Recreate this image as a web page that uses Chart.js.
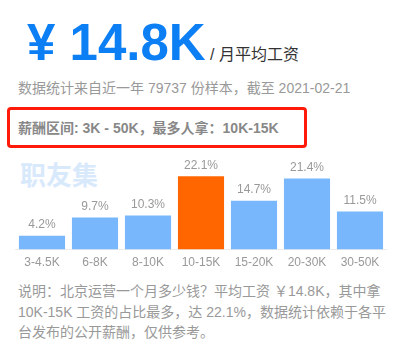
<!DOCTYPE html>
<html>
<head>
<meta charset="utf-8">
<script src="https://cdn.jsdelivr.net/npm/chart.js@4/dist/chart.umd.min.js"></script>
<style>
  html, body { margin: 0; padding: 0; background: #fff; width: 417px; height: 359px; overflow: hidden; }
  body { font-family: "Liberation Sans", "Noto Sans CJK SC", sans-serif; position: relative; }
  .abs { position: absolute; white-space: nowrap; }
  #head { left: 27px; top: 18px; line-height: 50px; }
  #big { font-size: 51px; font-weight: bold; color: #0d7ff5; }
  #unit { font-size: 16px; color: #333; }
  #sub { left: 18px; top: 78px; font-size: 14px; line-height: 20px; color: #999; }
  #box { left: 7px; top: 107px; width: 294px; height: 35px; border: 3px solid #ff1a0a; border-radius: 4px; }
  #range { left: 18px; top: 118px; font-size: 14px; line-height: 20px; font-weight: bold; color: #888; }
  #wm { left: 20px; top: 159px; font-size: 26px; line-height: 30px; font-weight: bold; color: #d9e9fc; font-family: "Noto Sans CJK SC", sans-serif; }
  #chartWrap { left: 0; top: 152px; width: 417px; height: 124px; }
  #desc { left: 18px; top: 281px; font-size: 14px; line-height: 20.5px; color: #999; }
</style>
</head>
<body>
<div class="abs" id="head"><span id="big">¥ 14.8K</span><span id="unit"> / 月平均工资</span></div>
<div class="abs" id="sub">数据统计来自近一年 79737 份样本，截至 2021-02-21</div>
<div class="abs" id="box"></div>
<div class="abs" id="range">薪酬区间: 3K - 50K，最多人拿：10K-15K</div>
<div class="abs" id="wm">职友集</div>
<div class="abs" id="chartWrap"><canvas id="c" width="417" height="124"></canvas></div>
<div class="abs" id="desc">说明：北京运营一个月多少钱？平均工资 ￥14.8K，其中拿<br>10K-15K 工资的占比最多，达 22.1%，数据统计依赖于各平<br>台发布的公开薪酬，仅供参考。</div>
<script>
const categories = ["3-4.5K", "6-8K", "8-10K", "10-15K", "15-20K", "20-30K", "30-50K"];
const shares = [4.2, 9.7, 10.3, 22.1, 14.7, 21.4, 11.5];
const highlightIndex = 3;

const barColors = shares.map((v, i) => i === highlightIndex ? "#ff6600" : "#78b7fc");

const valueLabels = {
  id: "valueLabels",
  afterDatasetsDraw(chart) {
    const ctx = chart.ctx;
    const meta = chart.getDatasetMeta(0);
    ctx.save();
    ctx.font = '12px "Liberation Sans", sans-serif';
    ctx.fillStyle = "#999";
    ctx.textAlign = "center";
    ctx.textBaseline = "middle";
    meta.data.forEach((bar, i) => {
      ctx.fillText(shares[i].toFixed(1) + "%", bar.x, bar.y - 11);
    });
    ctx.restore();
  }
};

new Chart(document.getElementById("c"), {
  type: "bar",
  data: {
    labels: categories,
    datasets: [{
      data: shares,
      backgroundColor: barColors,
      borderWidth: 0,
      barPercentage: 0.87,
      categoryPercentage: 1
    }]
  },
  options: {
    responsive: false,
    animation: false,
    events: [],
    layout: { padding: { left: 15.5, right: 30.5, top: 8, bottom: 0 } },
    plugins: { legend: { display: false }, tooltip: { enabled: false } },
    scales: {
      x: {
        grid: { display: false, drawTicks: false },
        border: { display: true, color: "#ececec", width: 1 },
        ticks: { color: "#999", font: { family: '"Liberation Sans", sans-serif', size: 12 }, padding: 6, maxRotation: 0, autoSkip: false }
      },
      y: { display: false, min: 0, max: 27 }
    }
  },
  plugins: [valueLabels]
});
</script>
</body>
</html>
